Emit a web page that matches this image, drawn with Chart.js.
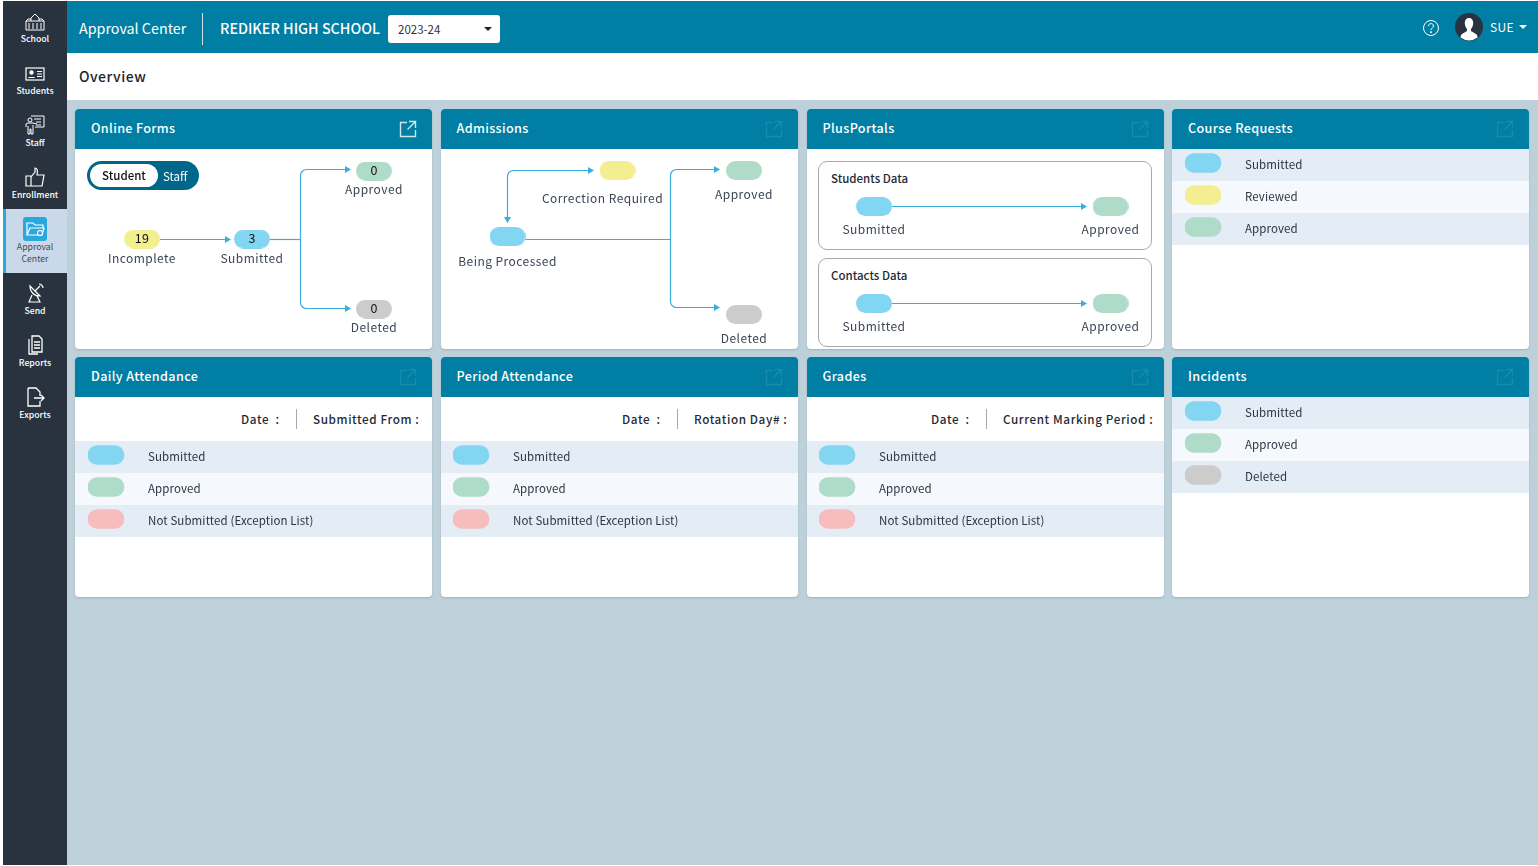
<!DOCTYPE html>
<html>
<head>
<meta charset="utf-8">
<title>Approval Center</title>
<script src="https://cdn.jsdelivr.net/npm/chart.js@4"></script>
<style>
  * { box-sizing: border-box; }
  html, body { margin: 0; width: 1538px; height: 866px; overflow: hidden; background: #fff; }
  body { position: relative; font-family: "Noto Sans CJK JP", "Noto Sans", sans-serif; color: #1f2a36; }
  .abs { position: absolute; white-space: nowrap; }
  #page { position: absolute; left: 67px; top: 100px; width: 1471px; height: 765px; background: #bed1da; }
  #side { position: absolute; left: 3px; top: 1px; width: 64px; height: 864px; background: #28333f; }
  #top { position: absolute; left: 67px; top: 1px; width: 1471px; height: 52px; background: #007ea3; }
  #active { position: absolute; left: 3px; top: 209px; width: 64px; height: 64px; background: #c9d9ea; border-left: 3px solid #2aa8dd; }
  .nav { position: absolute; left: 3px; width: 64px; text-align: center; font-size: 8.7px; font-weight: 500; line-height: 12px; color: #fff; }
  .nav svg { position: absolute; left: 20px; }
  .card { position: absolute; width: 357px; background: #fff; border-radius: 4px; overflow: hidden; box-shadow: 0 1px 2px rgba(60,90,110,.25); }
  .card .hd { height: 40px; background: #007ea3; color: #fff; font-size: 12.6px; font-weight: 500; line-height: 38px; padding-left: 16px; letter-spacing: .35px; }
  .card svg { position: absolute; right: 15px; top: 11px; }
  .card canvas { position: absolute; left: 0; }
  .meta { position: absolute; font-size: 11.7px; font-weight: 500; line-height: 16px; letter-spacing: .6px; white-space: nowrap; }
  .vr { position: absolute; width: 1px; height: 20px; background: #a8a8a8; }
  .box { position: absolute; left: 11px; width: 334px; height: 89px; border: 1px solid #a9a9a9; border-radius: 9px; }
  .box span { position: absolute; left: 12px; top: 6.500px; font-size: 11.500px; font-weight: 500; line-height: 18px; }
</style>
</head>
<body>
<div id="page"></div>
<div id="side"></div>
<div id="top"></div>
<div id="active"></div>

<div class="nav" style="top:32.500px">School<svg style="top:-20.500px" width="24" height="20" viewBox="0 0 24 20" fill="none" stroke="#fff" stroke-width="1"><path d="M3 18V9h18v9zM8 9V6l4-4 4 4v3M3 9l2-2h3M21 9l-2-2h-3M6 11v6M10 11v6M14 11v6M18 11v6"/></svg></div>
<div class="nav" style="top:84.500px">Students<svg style="top:-19.500px" width="24" height="18" viewBox="0 0 24 18" fill="none" stroke="#fff" stroke-width="1.2"><rect x="3" y="3" width="18" height="12"/><circle cx="8.5" cy="7.5" r="1.6" fill="#fff"/><path d="M5.5 12.5h6M14 6.5h5M14 9h5M14 11.500h5"/></svg></div>
<div class="nav" style="top:136.500px">Staff<svg style="top:-23.500px" width="24" height="22" viewBox="0 0 24 22" fill="none" stroke="#fff" stroke-width="1"><path d="M8 3h13v11h-9M11 6h7M13 9h5M13 12h5"/><circle cx="7" cy="7" r="2"/><path d="M3 14v-3l2-1h5l4 1M5 13v8h2v-5h1v5h2v-9"/></svg></div>
<div class="nav" style="top:188.500px">Enrollment<svg style="top:-22.500px" width="24" height="22" viewBox="0 0 24 22" fill="none" stroke="#fff" stroke-width="1.2"><path d="M3 10h5v10H3zM8 11l4-5V2c2 0 3 2 2 7h7l-2 11H8"/></svg></div>
<div class="nav" style="top:240.500px;color:#3b4a58;font-weight:400"><span style="display:block">Approval</span>Center
  <svg style="top:-23.500px;left:20px" width="24" height="24" viewBox="0 0 24 24" fill="none" stroke="#fff" stroke-width="1.2"><rect width="24" height="24" rx="3" fill="#2aa8dd" stroke="none"/><path d="M4 18V6h6l2 2h8v3M4 18l3-7h14l-2 7H4z"/><circle cx="17" cy="16" r="2.500" fill="#2aa8dd"/></svg></div>
<div class="nav" style="top:304.500px">Send<svg style="top:-22.500px" width="24" height="22" viewBox="0 0 24 22" fill="none" stroke="#fff" stroke-width="1.2"><path d="M7 4c0 6 4 10 10 10zM12 9l5-5M9 13l-3 7h11l-3-6M16 2c2 0 4 2 4 4"/></svg></div>
<div class="nav" style="top:356.500px">Reports<svg style="top:-21.500px" width="24" height="20" viewBox="0 0 24 20" fill="none" stroke="#fff" stroke-width="1.3"><path d="M9 1h7l3 3v13H9zM6 4v15h9M11 7h6M11 10h6M11 13h6"/></svg></div>
<div class="nav" style="top:408.500px">Exports<svg style="top:-21.500px" width="24" height="20" viewBox="0 0 24 20" fill="none" stroke="#fff" stroke-width="1.3"><path d="M5 1h8l4 4v4M17 14v5H5V1M11 11h10M18 8l3 3-3 3"/></svg></div>

<div class="abs" style="left:79px;top:16px;font-size:14.300px;line-height:24px;color:#fff">Approval Center</div>
<div class="abs" style="left:202px;top:13px;width:1px;height:32px;background:#cfe3ea"></div>
<div class="abs" style="left:220px;top:16px;font-size:14.300px;line-height:24px;font-weight:500;color:#fff">REDIKER HIGH SCHOOL</div>
<div class="abs" style="left:388px;top:15px;width:112px;height:28px;background:#fff;border-radius:3px;font-size:11.500px;line-height:28px;padding-left:10px;color:#333">2023-24</div>
<div class="abs" style="left:484px;top:27px;border:4px solid transparent;border-top:4.500px solid #222;border-bottom:0"></div>
<svg class="abs" style="left:1422px;top:19px" width="18" height="18" viewBox="0 0 18 18" fill="none" stroke="#fff" stroke-width="1"><circle cx="9" cy="9" r="7.500"/><path d="M6.500 7c0-3.200 5-3.200 5 0 0 2-2.500 2-2.500 4"/><circle cx="9" cy="13.200" r=".6" fill="#fff"/></svg>
<svg class="abs" style="left:1455px;top:13px" width="28" height="28" viewBox="0 0 28 28"><circle cx="14" cy="14" r="14" fill="#28333f"/><path d="M14 5c3 0 4.500 2.500 4.200 5.500-.2 2.500-1.200 4.500-2.200 5.500v2l5 3c1 .8 1.500 2 1.500 3.500a14 14 0 0 1-17 0c0-1.500.5-2.700 1.500-3.500l5-3v-2c-1-1-2-3-2.200-5.500C9.500 7.500 11 5 14 5z" fill="#fff"/></svg>
<div class="abs" style="left:1490px;top:18px;font-size:12px;line-height:18px;color:#fff;letter-spacing:.3px">SUE</div>
<div class="abs" style="left:1519px;top:25px;border:4px solid transparent;border-top:4px solid #fff;border-bottom:0"></div>
<div class="abs" style="left:79px;top:65px;font-size:14px;line-height:22px;font-weight:500;color:#1b2530;letter-spacing:.5px">Overview</div>

<!-- top row -->
<div class="card" style="left:75px;top:109px;height:240px"><div class="hd">Online Forms</div><svg width="18" height="18" viewBox="0 0 18 18" fill="none" stroke="#cfe8f0" stroke-width="1.400"><path d="M8 2.500H1.500v14h15V10M10 1.500h6.500V8M16.500 1.500L8.500 9.500"/></svg><canvas id="onlineFormsChart" style="top:40px" width="357" height="200"></canvas>
  <div class="abs" style="left:12px;top:52px;width:112px;height:29px;background:#00678a;border-radius:15px"></div>
  <div class="abs" style="left:15px;top:55px;width:68px;height:23px;background:#fff;border-radius:12px;text-align:center;font-size:11.500px;font-weight:500;line-height:22px;color:#111">Student</div>
  <div class="abs" style="left:88px;top:57px;font-size:11.500px;line-height:20px;color:#fff">Staff</div>
</div>
<div class="card" style="left:441px;top:109px;height:240px"><div class="hd" style="padding-left:15.500px">Admissions</div><svg width="18" height="18" viewBox="0 0 18 18" fill="none" stroke="#1b8bad" stroke-width="1.400"><path d="M8 2.500H1.500v14h15V10M10 1.500h6.500V8M16.500 1.500L8.500 9.500"/></svg><canvas id="admissionsChart" style="top:40px" width="357" height="200"></canvas></div>
<div class="card" style="left:807px;top:109px;height:240px"><div class="hd" style="padding-left:15.500px">PlusPortals</div><svg width="18" height="18" viewBox="0 0 18 18" fill="none" stroke="#1b8bad" stroke-width="1.400"><path d="M8 2.500H1.500v14h15V10M10 1.500h6.500V8M16.500 1.500L8.500 9.500"/></svg>
  <div class="box" style="top:52px"><span>Students Data</span></div>
  <div class="box" style="top:149px"><span>Contacts Data</span></div>
  <canvas id="plusPortalsChart" style="top:40px" width="357" height="200"></canvas></div>
<div class="card" style="left:1172px;top:109px;height:240px"><div class="hd">Course Requests</div><svg width="18" height="18" viewBox="0 0 18 18" fill="none" stroke="#1b8bad" stroke-width="1.400"><path d="M8 2.500H1.500v14h15V10M10 1.500h6.500V8M16.500 1.500L8.500 9.500"/></svg><canvas id="courseRequestsChart" style="top:38px" width="357" height="100"></canvas></div>

<!-- bottom row -->
<div class="card" style="left:75px;top:357px;height:240px"><div class="hd">Daily Attendance</div><svg width="18" height="18" viewBox="0 0 18 18" fill="none" stroke="#1b8bad" stroke-width="1.400"><path d="M8 2.500H1.500v14h15V10M10 1.500h6.500V8M16.500 1.500L8.500 9.500"/></svg>
  <div class="meta" style="left:166px;top:53.500px">Date&nbsp; :</div><div class="vr" style="left:221px;top:52px"></div><div class="meta" style="left:238px;top:53.500px">Submitted From :</div>
  <canvas id="dailyChart" style="top:82px" width="357" height="100"></canvas></div>
<div class="card" style="left:441px;top:357px;height:240px"><div class="hd" style="padding-left:15.500px">Period Attendance</div><svg width="18" height="18" viewBox="0 0 18 18" fill="none" stroke="#1b8bad" stroke-width="1.400"><path d="M8 2.500H1.500v14h15V10M10 1.500h6.500V8M16.500 1.500L8.500 9.500"/></svg>
  <div class="meta" style="left:181px;top:53.500px">Date&nbsp; :</div><div class="vr" style="left:236px;top:52px"></div><div class="meta" style="left:253px;top:53.500px">Rotation Day# :</div>
  <canvas id="periodChart" style="top:82px;left:-1px" width="358" height="100"></canvas></div>
<div class="card" style="left:807px;top:357px;height:240px"><div class="hd" style="padding-left:15.500px">Grades</div><svg width="18" height="18" viewBox="0 0 18 18" fill="none" stroke="#1b8bad" stroke-width="1.400"><path d="M8 2.500H1.500v14h15V10M10 1.500h6.500V8M16.500 1.500L8.500 9.500"/></svg>
  <div class="meta" style="left:124px;top:53.500px">Date&nbsp; :</div><div class="vr" style="left:179px;top:52px"></div><div class="meta" style="left:196px;top:53.500px">Current Marking Period :</div>
  <canvas id="gradesChart" style="top:82px;left:-1px" width="358" height="100"></canvas></div>
<div class="card" style="left:1172px;top:357px;height:240px"><div class="hd">Incidents</div><svg width="18" height="18" viewBox="0 0 18 18" fill="none" stroke="#1b8bad" stroke-width="1.400"><path d="M8 2.500H1.500v14h15V10M10 1.500h6.500V8M16.500 1.500L8.500 9.500"/></svg><canvas id="incidentsChart" style="top:38px" width="357" height="100"></canvas></div>

<script>
// ---------- Data ----------
const courseRequestStatuses = ["Submitted", "Reviewed", "Approved"];
const incidentStatuses = ["Submitted", "Approved", "Deleted"];
const attendanceStatuses = ["Submitted", "Approved", "Not Submitted (Exception List)"];
const onlineFormStatuses = ["Incomplete", "Submitted", "Approved", "Deleted"];
const onlineFormCounts = [19, 3, 0, 0];
const admissionStatuses = ["Correction Required", "Being Processed", "Approved", "Deleted"];
const portalStatuses = ["Submitted", "Approved"];

// ---------- Styles and layout (card pixels, not data) ----------
const FONT = '"Noto Sans CJK JP", "Noto Sans", sans-serif';
const statusColors = {
  Submitted: "#83d6f2", "Being Processed": "#83d6f2",
  Reviewed: "#f3ee90", Incomplete: "#f3ee90", "Correction Required": "#f3ee90",
  Approved: "#afdbc9",
  Deleted: "#cccccc",
  "Not Submitted (Exception List)": "#f7bcbc",
};
const LINK_COLOR = "#38aee0";

Chart.defaults.animation = false;
Chart.defaults.responsive = false;
Chart.defaults.font.family = FONT;
Chart.defaults.plugins.legend.display = false;
Chart.defaults.plugins.tooltip.enabled = false;

// Rounded pill used as the point marker
const pillCache = {};
function pillStyle(color) {
  if (pillCache[color]) return pillCache[color];
  const c = document.createElement("canvas");
  c.width = 36;
  c.height = 19;
  const g = c.getContext("2d");
  g.fillStyle = color;
  g.beginPath();
  g.roundRect(0, 0, 36, 19, 9.5);
  g.fill();
  pillCache[color] = c;
  return c;
}

// Draws connector routes with rounded corners, then node captions and counts
const flowPlugin = {
  id: "flowPlugin",
  beforeDatasetsDraw(chart, args, opts) {
    const { ctx, scales: { x, y } } = chart;
    ctx.save();
    ctx.strokeStyle = LINK_COLOR;
    ctx.lineWidth = 1.2;
    opts.routes.forEach((route) => {
      ctx.beginPath();
      route.forEach((p, i) => {
        const px = x.getPixelForValue(p[0]);
        const py = y.getPixelForValue(p[1]);
        if (i === 0) ctx.moveTo(px, py);
        else if (i === route.length - 1) ctx.lineTo(px, py);
        else ctx.arcTo(px, py, x.getPixelForValue(route[i + 1][0]), y.getPixelForValue(route[i + 1][1]), 6);
      });
      ctx.stroke();
    });
    ctx.restore();
  },
  afterDatasetsDraw(chart, args, opts) {
    const { ctx, scales: { x, y } } = chart;
    ctx.save();
    ctx.textAlign = "center";
    ctx.textBaseline = "middle";
    opts.nodes.forEach((n) => {
      ctx.font = "400 12px " + FONT;
      ctx.letterSpacing = "0.45px";
      ctx.fillStyle = "#3b4654";
      ctx.fillText(n.label, x.getPixelForValue(n.labelX ?? n.x), y.getPixelForValue(n.labelY) - 0.7);
      if (n.value !== undefined) {
        ctx.letterSpacing = "0.3px";
        ctx.font = "400 12.5px " + FONT;
        ctx.fillStyle = "#111";
        ctx.fillText(String(n.value), x.getPixelForValue(n.x), y.getPixelForValue(n.y) - 0.5);
      }
    });
    ctx.restore();
  },
};

function createFlowChart(canvasId, nodes, routes, arrows) {
  new Chart(document.getElementById(canvasId), {
    type: "scatter",
    data: {
      datasets: [
        {
          data: nodes.map((n) => ({ x: n.x, y: n.y })),
          pointStyle: nodes.map((n) => pillStyle(statusColors[n.label])),
        },
        {
          // arrow heads at the end of each route
          data: arrows.map((a) => ({ x: a[0], y: a[1] })),
          pointStyle: "triangle",
          pointRadius: 4,
          pointRotation: arrows.map((a) => a[2]),
          backgroundColor: LINK_COLOR,
          borderWidth: 0,
        },
      ],
    },
    options: {
      layout: { padding: 0, autoPadding: false },
      scales: {
        x: { display: false, min: 0, max: 357 },
        y: { display: false, min: 0, max: 200, reverse: true },
      },
      plugins: { flowPlugin: { nodes, routes } },
    },
    plugins: [flowPlugin],
  });
}

// Alternating rows and the caption beside each pill
const rowPlugin = {
  id: "rowPlugin",
  beforeDatasetsDraw(chart) {
    const { ctx, scales: { y } } = chart;
    chart.data.labels.forEach((label, i) => {
      ctx.fillStyle = i % 2 === 0 ? "#e4ecf5" : "#f5f9fd";
      ctx.fillRect(0, y.getPixelForTick(i) - 14, chart.width, 32);
    });
  },
  afterDatasetsDraw(chart) {
    const { ctx, scales: { y } } = chart;
    ctx.save();
    ctx.font = "400 11.5px " + FONT;
    ctx.letterSpacing = "0.1px";
    ctx.fillStyle = "#2b3544";
    ctx.textBaseline = "middle";
    chart.data.labels.forEach((label, i) => {
      ctx.fillText(label, 73, y.getPixelForTick(i) + 2);
    });
    ctx.restore();
  },
};

// Status list: one pill per status, as a floating horizontal bar
const createStatusList = (canvasId, statuses) => {
  const ctx = document.getElementById(canvasId);
  if (!ctx) return;
  new Chart(ctx, {
    type: "bar",
    data: {
      labels: statuses,
      datasets: [
        {
          data: statuses.map(() => [0, 1]),
          backgroundColor: statuses.map((s) => statusColors[s]),
          borderRadius: 9.5,
          borderSkipped: false,
          barThickness: 19,
          categoryPercentage: 1,
        },
      ],
    },
    options: {
      indexAxis: "y",
      layout: { padding: { left: 13, top: 0, bottom: 4 } },
      scales: {
        x: { display: false, min: 0, max: (ctx.width - 13) / 36 },
        y: { display: false, grid: { display: false } },
      },
    },
    plugins: [rowPlugin],
  });
};

// ---------- Status lists ----------
createStatusList("courseRequestsChart", courseRequestStatuses);
createStatusList("incidentsChart", incidentStatuses);
createStatusList("dailyChart", attendanceStatuses);
createStatusList("periodChart", attendanceStatuses);
createStatusList("gradesChart", attendanceStatuses);

// ---------- Online Forms flow ----------
createFlowChart(
  "onlineFormsChart",
  [
    { label: onlineFormStatuses[0], value: onlineFormCounts[0], x: 67, y: 90, labelY: 110 },
    { label: onlineFormStatuses[1], value: onlineFormCounts[1], x: 177, y: 90, labelY: 110 },
    { label: onlineFormStatuses[2], value: onlineFormCounts[2], x: 299, y: 22, labelY: 41 },
    { label: onlineFormStatuses[3], value: onlineFormCounts[3], x: 299, y: 160, labelY: 179 },
  ],
  [
    [[85, 90.5], [152, 90.5]],
    [[195, 90.5], [225.5, 90.5]],
    [[225.5, 90.5], [225.5, 20.5], [272, 20.5]],
    [[225.5, 90.5], [225.5, 159.5], [272, 159.5]],
  ],
  [[152, 90.5, 90], [272, 20.5, 90], [272, 159.5, 90]]
);

// ---------- Admissions flow ----------
createFlowChart(
  "admissionsChart",
  [
    { label: admissionStatuses[0], x: 176.5, y: 21.5, labelX: 161.5, labelY: 50 },
    { label: admissionStatuses[1], x: 66.5, y: 87.5, labelY: 113 },
    { label: admissionStatuses[2], x: 303, y: 21.5, labelY: 46 },
    { label: admissionStatuses[3], x: 303, y: 165.5, labelY: 190 },
  ],
  [
    [[66.5, 70], [66.5, 21.5], [149, 21.5]],
    [[84, 90.5], [229.5, 90.5]],
    [[229.5, 90.5], [229.5, 20.5], [275, 20.5]],
    [[229.5, 90.5], [229.5, 158.5], [275, 158.5]],
  ],
  [[66.5, 70, 180], [149, 21.5, 90], [275, 20.5, 90], [275, 158.5, 90]]
);

// ---------- PlusPortals flow ----------
createFlowChart(
  "plusPortalsChart",
  [
    { label: portalStatuses[0], x: 67, y: 57.5, labelY: 81.5 },
    { label: portalStatuses[1], x: 303.5, y: 57.5, labelY: 81.5 },
    { label: portalStatuses[0], x: 67, y: 154.5, labelY: 178.5 },
    { label: portalStatuses[1], x: 303.5, y: 154.5, labelY: 178.5 },
  ],
  [
    [[85, 57.5], [276, 57.5]],
    [[85, 154.5], [276, 154.5]],
  ],
  [[276, 57.5, 90], [276, 154.5, 90]]
);
</script>
</body>
</html>
